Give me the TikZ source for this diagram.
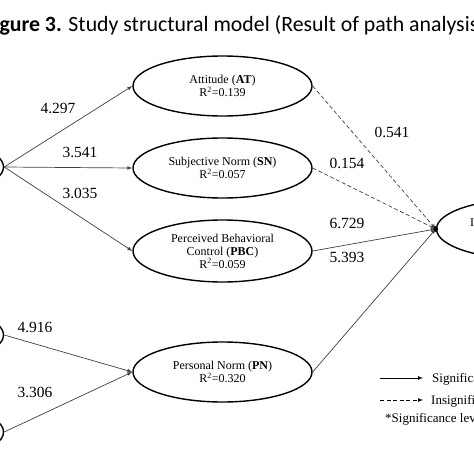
\documentclass[tikz,border=0pt]{standalone}
\usepackage{fontspec}
\setmainfont{Liberation Serif}
\newfontfamily\captionfont{Carlito}
\usepackage{xcolor}
\usepackage{tikz}
\usetikzlibrary{shapes.geometric,arrows}

\begin{document}
\begin{tikzpicture}[x=1pt,y=-1pt]
			\tikzstyle{construct} = [ellipse, draw, line width=1.4pt, minimum width=179pt, minimum height=60pt, inner sep=0pt, align=center, font=\fontsize{12}{13}\selectfont]
			\tikzstyle{coef} = [font=\fontsize{15.5}{16}\selectfont, inner sep=0pt]
			\tikzstyle{legend} = [font=\fontsize{13}{14}\selectfont, inner sep=0pt, anchor=west]
			\tikzset{sig/.style = {->, >=latex, draw=black!75, line width=0.7pt}}
			\tikzset{insig/.style = {sig, dash pattern=on 4pt off 2.5pt}}
			
			\useasboundingbox (0,0) rectangle (474,474);
			\clip (0,0) rectangle (474,474);
			
			% title
			\node[anchor=base west, inner sep=0pt, font=\captionfont\fontsize{21.8}{24}\selectfont](title) at (-16,31) {\textbf{Figure 3.} Study structural model (Result of path analysis)};
			
			% exogenous constructs (cut off at the left)
			\node[construct](src1) at (-86,167) {};
			\node[construct](src2) at (-86,335) {};
			\node[construct](src3) at (-86,432) {};
			
			\node[construct](at) at (222.5,86) {Attitude (\textbf{AT})\\R\textsuperscript{2}=0.139};
			\node[construct](sn) at (222.5,168) {Subjective Norm (\textbf{SN})\\R\textsuperscript{2}=0.057};
			\node[construct, minimum height=62pt](pbc) at (222.5,251) {Perceived Behavioral\\Control (\textbf{PBC})\\R\textsuperscript{2}=0.059};
			\node[construct](pn) at (222.5,372) {Personal Norm (\textbf{PN})\\R\textsuperscript{2}=0.320};
			\node[construct](in) at (526,229) {};
			\node[anchor=base west, inner sep=0pt, font=\fontsize{12}{13}\selectfont](intext) at (470,226) {I};
			
			\draw[sig](src1.east) to (at.west);
			\draw[sig](src1.east) to (sn.west);
			\draw[sig](src1.east) to (pbc.west);
			\draw[sig](src2.east) to (pn.west);
			\draw[sig](src3.east) to (pn.west);
			
			\draw[insig](at.east) to (in.west);
			\draw[insig](sn.east) to (in.west);
			\draw[sig](pbc.east) to (in.west);
			\draw[sig](pn.east) to (in.west);
			\fill (in.west) ellipse (2.2pt and 3pt);
			
			\node[coef](c1) at (58,108) {4.297};
			\node[coef](c2) at (80,152) {3.541};
			\node[coef](c3) at (80,193) {3.035};
			\node[coef](c4) at (35,327) {4.916};
			\node[coef](c5) at (35,392) {3.306};
			\node[coef](c6) at (392,132) {0.541};
			\node[coef](c7) at (347,163) {0.154};
			\node[coef](c8) at (347,223) {6.729};
			\node[coef](c9) at (347,257) {5.393};
			
			% legend
			\coordinate (ls1) at (380,378);
			\coordinate (le1) at (423,378);
			\coordinate (ls2) at (380,400);
			\coordinate (le2) at (423,400);
			\draw[sig, draw=black](ls1) to (le1);
			\draw[insig, draw=black](ls2) to (le2);
			\node[legend](lsig) at (432,379) {Significant};
			\node[legend](linsig) at (431,401) {Insignificant};
			\node[legend](llevel) at (385,419) {*Significance level};
			
			\end{tikzpicture}
\end{document}
